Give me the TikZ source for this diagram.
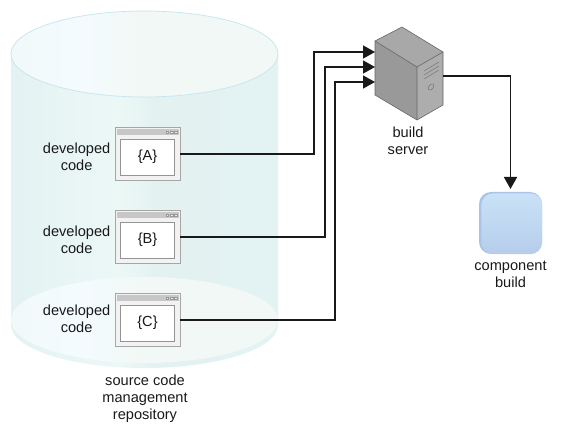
\documentclass[tikz,border=0pt]{standalone}
\usepackage{fontspec}
\setmainfont{Liberation Sans}
\usetikzlibrary{arrows.meta, calc}
\definecolor{rimblue}{HTML}{C6E4EE}
\definecolor{buildtop}{HTML}{C9E2F6}
\definecolor{buildlow}{HTML}{B5CDEB}
\definecolor{buildedge}{HTML}{A9C4E6}
\pgfdeclarehorizontalshading{bodyfade}{100bp}{
    rgb(0bp)=(0.89,0.949,0.949); rgb(25bp)=(0.89,0.949,0.949); rgb(45bp)=(0.925,0.972,0.965);
    rgb(52bp)=(0.89,0.949,0.945); rgb(75bp)=(0.89,0.949,0.949); rgb(100bp)=(0.89,0.949,0.949)}
\pgfdeclarehorizontalshading{lidfade}{100bp}{
    rgb(0bp)=(0.945,0.976,0.976); rgb(25bp)=(0.945,0.976,0.976); rgb(37bp)=(0.957,0.984,1);
    rgb(50bp)=(0.949,0.973,0.961); rgb(75bp)=(0.949,0.973,0.961); rgb(100bp)=(0.949,0.973,0.961)}
\begin{document}
\begin{tikzpicture}[
            x=1pt, y=-1pt,
            >={Triangle[length=12pt,width=13pt]},
            base text/.style={font=\fontsize{14.6}{16.8}\selectfont, align=center, inner sep=0pt, text=black!90},
            link/.style={line width=1.7pt, black!90},
            winframe/.style={draw=black!35, fill=black!5, line width=0.9pt, minimum width=65pt, minimum height=53pt, inner sep=0pt},
            winbar/.style={fill=black!22, minimum width=62pt, minimum height=6.5pt, inner sep=0pt},
            winbody/.style={draw=black!42, fill=white, line width=0.9pt, minimum width=54pt, minimum height=36pt, inner sep=0pt, base text},
            winbutton/.style={draw=black!40, fill=black!8, line width=0.3pt, minimum size=2.6pt, inner sep=0pt},
            srvface/.style={draw=black!60, line width=0.6pt, line join=round},
        ]
        \def\cx{144.5}
        \def\rx{133.5}
        \def\ry{43}
        \useasboundingbox (0,0) rectangle (562,427);

        % cylinder
        \shade[shading=bodyfade]
            (\cx-\rx,54) -- (\cx-\rx,325) arc[start angle=180, end angle=0, x radius=\rx, y radius=\ry]
            -- (\cx+\rx,54) arc[start angle=0, end angle=180, x radius=\rx, y radius=\ry] -- cycle;
        \shade[shading=lidfade] (\cx,320) ellipse[x radius=\rx, y radius=\ry];
        \shade[shading=lidfade] (\cx,54) ellipse[x radius=\rx, y radius=\ry];
        \draw[rimblue, line width=0.7pt] (\cx,54) ellipse[x radius=\rx, y radius=\ry];

        % windows
        \foreach \name/\ypos/\laby/\tag in {A/154/156.5/\{A\}, B/237/239.5/\{B\}, C/320/318.5/\{C\}} {
            \node[winframe] (win\name) at (147.5,\ypos) {};
            \node[winbar, anchor=north] (bar\name) at ($(win\name.north)+(0,1.5)$) {};
            \node[winbody, anchor=south] (body\name) at ($(win\name.south)+(0,-5.5)$) {\tag};
            \foreach \i in {0,1,2} {
                \node[winbutton] (btn\name\i) at ($(bar\name.east)+(-3-4.2*\i,0)$) {};
            }
            \node[base text, anchor=east] (lab\name) at (110.5,\laby) {developed\\code};
        }

        \node[base text] (repoLabel) at (145,398.5) {source code\\management\\repository};

        % server
        \coordinate (s1) at (375,41);
        \coordinate (s2) at (402,27);
        \coordinate (s3) at (443,52);
        \coordinate (s4) at (417,67);
        \coordinate (s5) at (375,95);
        \coordinate (s6) at (417,120);
        \coordinate (s7) at (443,105);
        \fill[black!34] (s1) -- (s2) -- (s3) -- (s4) -- cycle;
        \fill[black!40] (s1) -- (s4) -- (s6) -- (s5) -- cycle;
        \fill[black!32] (s4) -- (s3) -- (s7) -- (s6) -- cycle;
        \draw[srvface] (s1) -- (s2) -- (s3) -- (s7) -- (s6) -- (s5) -- cycle;
        \draw[srvface] (s1) -- (s4) -- (s3) (s4) -- (s6);
        \draw[black!55, line width=0.5pt] (424,71) -- (439,62) (424,75) -- (439,66) (424,79) -- (439,70);
        \draw[black!55, line width=0.5pt, rotate around={50:(431,87)}] (431,87) ellipse[x radius=3.6, y radius=2.2];
        \node[base text] (srvLabel) at (408,141) {build\\server};

        % component
        \node[fill=buildedge, rounded corners=12pt, minimum width=63pt, minimum height=62pt, inner sep=0pt] (compBox) at (510.5,223) {};
        \shade[top color=buildtop, bottom color=buildlow, rounded corners=12pt]
            ($(compBox.north west)+(2.5,1.5)$) rectangle (compBox.south east);
        \node[base text] (compLabel) at (510.5,274.5) {component\\build};

        % connectors
        \coordinate (inA) at (375,52);
        \coordinate (inB) at (375,67);
        \coordinate (inC) at (375,82);
        \coordinate (turnA) at (314,52);
        \coordinate (turnB) at (325,67);
        \coordinate (turnC) at (335,82);
        \coordinate (srvOut) at (443,76);
        \coordinate (compIn) at (510.5,189);
        \draw[link, ->] (winA.east) -| (turnA) -- (inA);
        \draw[link, ->] (winB.east) -| (turnB) -- (inB);
        \draw[link, ->] (winC.east) -| (turnC) -- (inC);
        \draw[link, ->] (srvOut) -| (compIn);
\end{tikzpicture}
\end{document}
